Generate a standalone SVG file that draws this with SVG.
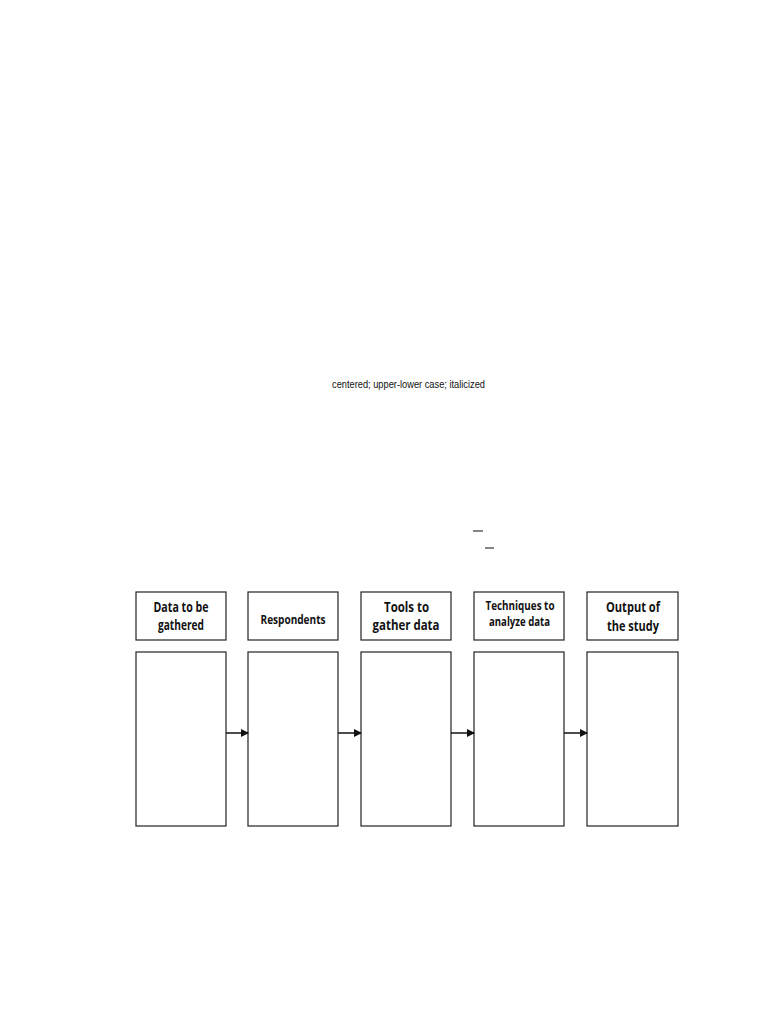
<svg xmlns="http://www.w3.org/2000/svg" width="768" height="1024" viewBox="0 0 768 1024">
<defs>
<style>
.box{fill:#fff;stroke:#222;stroke-width:1.2}
.lbl{font-family:"Open Sans","Liberation Sans",sans-serif;font-weight:bold;fill:#111;text-anchor:middle}
.note{font-family:"Liberation Sans",sans-serif;font-size:10px;fill:#111}
.conn{stroke:#111;stroke-width:1.5;fill:none;marker-end:url(#arr)}
</style>
<marker id="arr" markerWidth="8" markerHeight="8" refX="7" refY="4" orient="auto" markerUnits="userSpaceOnUse">
<path d="M0,0 L8,4 L0,8 Z" fill="#111"/>
</marker>
</defs>
<rect width="768" height="1024" fill="#fff"/>
<text class="note" x="332" y="388" textLength="153" lengthAdjust="spacingAndGlyphs">centered; upper-lower case; italicized</text>
<line x1="473" y1="531" x2="483" y2="531" stroke="#333" stroke-width="1.2"/>
<line x1="485" y1="548" x2="494" y2="548" stroke="#333" stroke-width="1.2"/>
<g id="n1">
<rect class="box" x="136" y="592" width="90" height="48"/>
<text class="lbl" font-size="13.5" x="181" y="611.5" textLength="55" lengthAdjust="spacingAndGlyphs">Data to be</text>
<text class="lbl" font-size="13.5" x="181" y="629.5" textLength="46" lengthAdjust="spacingAndGlyphs">gathered</text>
<rect class="box" x="136" y="652" width="90" height="174"/>
</g>
<g id="n2">
<rect class="box" x="248" y="592" width="90" height="48"/>
<text class="lbl" font-size="11.5" x="293" y="624" textLength="65" lengthAdjust="spacingAndGlyphs">Respondents</text>
<rect class="box" x="248" y="652" width="90" height="174"/>
</g>
<g id="n3">
<rect class="box" x="361" y="592" width="90" height="48"/>
<text class="lbl" font-size="13.5" x="406.5" y="611.5" textLength="45" lengthAdjust="spacingAndGlyphs">Tools to</text>
<text class="lbl" font-size="13.5" x="406" y="629.5" textLength="67" lengthAdjust="spacingAndGlyphs">gather data</text>
<rect class="box" x="361" y="652" width="90" height="174"/>
</g>
<g id="n4">
<rect class="box" x="474" y="592" width="90" height="48"/>
<text class="lbl" font-size="11.5" x="520" y="610" textLength="69" lengthAdjust="spacingAndGlyphs">Techniques to</text>
<text class="lbl" font-size="11.5" x="519.5" y="625.5" textLength="61" lengthAdjust="spacingAndGlyphs">analyze data</text>
<rect class="box" x="474" y="652" width="90" height="174"/>
</g>
<g id="n5">
<rect class="box" x="587" y="592" width="91" height="48"/>
<text class="lbl" font-size="13.5" x="633" y="611.5" textLength="54" lengthAdjust="spacingAndGlyphs">Output of</text>
<text class="lbl" font-size="13.5" x="633" y="631" textLength="52" lengthAdjust="spacingAndGlyphs">the study</text>
<rect class="box" x="587" y="652" width="91" height="174"/>
</g>
<g id="connectors">
<line class="conn" x1="226" y1="733" x2="248" y2="733"/>
<line class="conn" x1="338" y1="733" x2="361" y2="733"/>
<line class="conn" x1="451" y1="733" x2="474" y2="733"/>
<line class="conn" x1="564" y1="733" x2="587" y2="733"/>
</g>
</svg>
